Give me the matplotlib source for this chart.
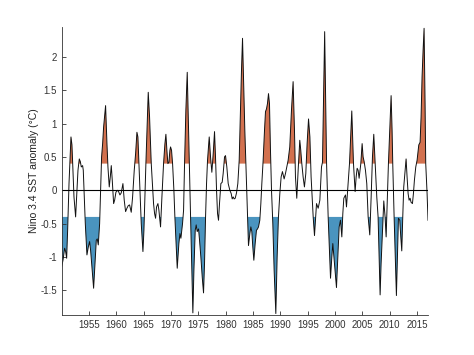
import matplotlib
matplotlib.use('Agg')
import matplotlib.pyplot as plt
import numpy as np

# Nino 3.4 SST anomaly (decimal year, degC)
years = [
    1950.0, 1950.25, 1950.55, 1950.74, 1950.92, 1951.1, 1951.35, 1951.53, 1951.71, 1951.89,
    1952.08, 1952.26, 1952.56, 1952.75, 1952.99, 1953.23, 1953.42, 1953.6, 1953.84, 1953.96,
    1954.15, 1954.33, 1954.63, 1954.88, 1955.12, 1955.3, 1955.55, 1955.85, 1956.1, 1956.34,
    1956.52, 1956.7, 1956.95, 1957.13, 1957.31, 1957.5, 1957.68, 1958.04, 1958.29, 1958.47,
    1958.71, 1958.9, 1959.08, 1959.26, 1959.51, 1959.69, 1959.93, 1960.18, 1960.42, 1960.66,
    1960.9, 1961.21, 1961.45, 1961.7, 1961.94, 1962.19, 1962.43, 1962.73, 1962.98, 1963.28,
    1963.53, 1963.77, 1963.95, 1964.14, 1964.32, 1964.56, 1964.87, 1965.05, 1965.23, 1965.41,
    1965.66, 1965.84, 1966.08, 1966.39, 1966.63, 1966.81, 1967.0, 1967.18, 1967.36, 1967.61,
    1967.79, 1968.09, 1968.34, 1968.64, 1968.89, 1969.07, 1969.25, 1969.43, 1969.62, 1969.8,
    1969.92, 1970.1, 1970.29, 1970.53, 1970.71, 1971.14, 1971.44, 1971.63, 1971.81, 1972.11,
    1972.3, 1972.48, 1972.72, 1972.97, 1973.21, 1973.39, 1973.58, 1973.82, 1974.0, 1974.19,
    1974.43, 1974.61, 1974.79, 1975.04, 1975.22, 1975.46, 1975.71, 1975.95, 1976.13, 1976.32,
    1976.5, 1976.68, 1976.99, 1977.23, 1977.47, 1977.72, 1977.96, 1978.14, 1978.33, 1978.51,
    1978.69, 1978.87, 1979.12, 1979.36, 1979.54, 1979.79, 1979.97, 1980.21, 1980.46, 1980.76,
    1981.01, 1981.19, 1981.37, 1981.55, 1981.74, 1981.98, 1982.22, 1982.47, 1982.71, 1982.89,
    1983.08, 1983.26, 1983.5, 1983.69, 1983.87, 1984.05, 1984.17, 1984.42, 1984.6, 1984.78,
    1984.96, 1985.15, 1985.39, 1985.63, 1985.82, 1986.0, 1986.24, 1986.43, 1986.61, 1986.85,
    1987.1, 1987.28, 1987.46, 1987.64, 1987.83, 1988.01, 1988.19, 1988.38, 1988.62, 1988.86,
    1989.17, 1989.41, 1989.65, 1989.9, 1990.14, 1990.38, 1990.69, 1990.93, 1991.18, 1991.42,
    1991.72, 1992.03, 1992.33, 1992.58, 1992.76, 1993.0, 1993.25, 1993.55, 1993.73, 1993.92,
    1994.16, 1994.4, 1994.65, 1994.89, 1995.15, 1995.4, 1995.62, 1996.0, 1996.24, 1996.61,
    1996.91, 1997.22, 1997.52, 1997.7, 1997.89, 1998.1, 1998.28, 1998.45, 1998.74, 1999.17,
    1999.41, 1999.59, 1999.9, 2000.26, 2000.5, 2000.75, 2000.99, 2001.24, 2001.42, 2001.6,
    2001.91, 2002.09, 2002.39, 2002.64, 2003.06, 2003.37, 2003.67, 2003.86, 2004.04, 2004.22,
    2004.4, 2004.71, 2004.95, 2005.13, 2005.32, 2005.56, 2005.8, 2006.05, 2006.35, 2006.6,
    2006.84, 2007.08, 2007.33, 2007.63, 2007.87, 2008.06, 2008.24, 2008.42, 2008.67, 2008.91,
    2009.15, 2009.34, 2009.58, 2009.76, 2010.01, 2010.25, 2010.43, 2010.55, 2010.8, 2011.04,
    2011.22, 2011.41, 2011.59, 2011.83, 2012.02, 2012.2, 2012.38, 2012.56, 2012.81, 2012.99,
    2013.17, 2013.36, 2013.54, 2013.72, 2013.9, 2014.15, 2014.33, 2014.51, 2014.76, 2015.0,
    2015.31, 2015.55, 2015.73, 2015.91, 2016.1, 2016.28, 2016.46, 2016.58, 2016.83, 2017.0,
]
anom = [
    -1.15, -1.05, -0.87, -0.92, -1.02, -0.6, 0.1, 0.45, 0.8, 0.68,
    0.3, -0.1, -0.4, -0.1, 0.3, 0.47, 0.43, 0.35, 0.37, 0.3,
    -0.1, -0.5, -0.97, -0.85, -0.77, -0.9, -1.15, -1.47, -1.1, -0.75,
    -0.73, -0.82, -0.5, 0.0, 0.5, 0.7, 0.95, 1.27, 0.7, 0.35,
    0.05, 0.2, 0.37, 0.15, -0.2, -0.15, -0.03, 0.0, -0.02, -0.07,
    -0.04, 0.1, -0.15, -0.32, -0.27, -0.23, -0.22, -0.33, -0.1, 0.3,
    0.55, 0.87, 0.8, 0.4, 0.0, -0.5, -0.92, -0.6, -0.1, 0.4,
    1.0, 1.47, 1.1, 0.4, 0.05, -0.2, -0.35, -0.42, -0.25, -0.2,
    -0.3, -0.55, -0.1, 0.4, 0.7, 0.84, 0.6, 0.4, 0.42, 0.6,
    0.65, 0.6, 0.4, 0.0, -0.4, -1.17, -0.8, -0.65, -0.72, -0.5,
    -0.3, 0.4, 1.2, 1.77, 0.9, 0.2, -0.4, -1.2, -1.84, -1.2,
    -0.6, -0.52, -0.62, -0.58, -0.75, -1.0, -1.3, -1.54, -1.1, -0.4,
    0.1, 0.45, 0.8, 0.5, 0.27, 0.55, 0.88, 0.5, 0.0, -0.35,
    -0.45, -0.2, 0.1, 0.12, 0.25, 0.5, 0.52, 0.35, 0.1, 0.0,
    -0.05, -0.13, -0.1, -0.13, -0.12, -0.04, 0.1, 0.45, 1.2, 1.8,
    2.28, 1.7, 0.9, 0.4, -0.05, -0.5, -0.83, -0.65, -0.55, -0.62,
    -0.85, -1.05, -0.8, -0.6, -0.58, -0.55, -0.45, -0.2, 0.1, 0.45,
    0.9, 1.18, 1.22, 1.3, 1.45, 1.3, 0.6, 0.0, -0.5, -1.2,
    -1.85, -1.0, -0.4, -0.05, 0.2, 0.28, 0.17, 0.25, 0.35, 0.45,
    0.65, 1.2, 1.63, 0.9, 0.2, -0.12, 0.3, 0.75, 0.6, 0.4,
    0.2, 0.05, 0.25, 0.7, 1.07, 0.8, 0.2, -0.4, -0.68, -0.2,
    -0.27, -0.15, 0.35, 0.42, 1.4, 2.38, 1.4, 0.4, -0.4, -1.32,
    -1.0, -0.8, -1.1, -1.46, -1.0, -0.55, -0.45, -0.7, -0.35, -0.12,
    -0.07, -0.25, 0.1, 0.4, 1.19, 0.4, -0.02, 0.2, 0.33, 0.3,
    0.18, 0.4, 0.7, 0.5, 0.43, 0.3, 0.1, -0.4, -0.67, -0.1,
    0.5, 0.84, 0.4, -0.1, -0.4, -1.0, -1.57, -1.1, -0.6, -0.16,
    -0.4, -0.7, -0.1, 0.4, 0.9, 1.42, 0.9, 0.4, -0.4, -1.1,
    -1.58, -1.0, -0.42, -0.45, -0.7, -0.91, -0.4, 0.05, 0.3, 0.47,
    0.2, -0.05, -0.15, -0.12, -0.18, -0.2, -0.05, 0.15, 0.35, 0.45,
    0.68, 0.72, 1.1, 1.7, 2.1, 2.43, 1.3, 0.4, -0.05, -0.45,
]
threshold = 0.4
xticks = [1955, 1960, 1965, 1970, 1975, 1980, 1985, 1990, 1995, 2000, 2005, 2010, 2015]
yticks = [-1.5, -1, -0.5, 0, 0.5, 1, 1.5, 2]

plt.rcParams['font.family'] = ['Liberation Sans', 'DejaVu Sans']

x = np.array(years)
y = np.array(anom)

fig = plt.figure(figsize=(4.74, 3.55), dpi=100)
ax = fig.add_axes([0.13, 0.113, 0.773, 0.811])

# warm / cold episodes beyond +-0.4
ax.fill_between(x, threshold, y, where=y >= threshold, interpolate=True,
                color='#d2714f', linewidth=0)
ax.fill_between(x, -threshold, y, where=y <= -threshold, interpolate=True,
                color='#4a94bf', linewidth=0)
ax.plot(x, y, color='#111111', linewidth=0.7)
ax.axhline(0, color='black', linewidth=0.8)

ax.set_xlim(1950, 2017)
ax.set_ylim(-1.87, 2.45)
ax.set_xticks(xticks)
ax.set_yticks(yticks)
ax.set_yticklabels([f'{v:g}' for v in yticks])
ax.set_ylabel('Nino 3.4 SST anomaly (°C)', fontsize=7.5, color='#222222', labelpad=1)

for s in ['top', 'right']:
    ax.spines[s].set_visible(False)
for s in ['left', 'bottom']:
    ax.spines[s].set_color('#333333')
    ax.spines[s].set_linewidth(0.6)
ax.tick_params(direction='in', length=3, width=0.6, labelsize=7, colors='#333333')

plt.savefig('out.png', dpi=100)
